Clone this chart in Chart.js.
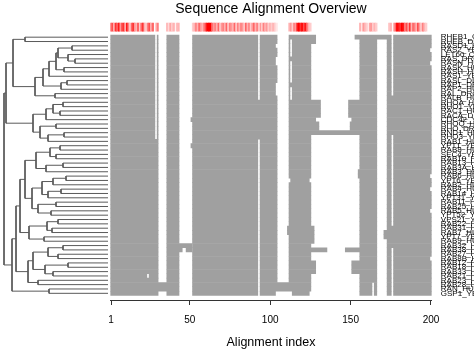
<!DOCTYPE html>
<html><head><meta charset="utf-8">
<script src="https://cdn.jsdelivr.net/npm/chart.js@4.4.1/dist/chart.umd.min.js"></script>
<style>html,body{margin:0;padding:0;background:#fff}#wrap{width:474px;height:351px;position:relative}</style>
</head><body><div id="wrap"><canvas id="c" width="474" height="351"></canvas></div>
<script>
// ---------- data ----------
const sequenceNames = [
 "RHEB1_CAEEL","RHEB_DROME","RASD1_HUMAN","RAS2_YEAST","LET60_CAEEL","RAS_DROME","RASN_HUMAN","RASK_HUMAN",
 "RASH_HUMAN","RAS1_YEAST","RASL_DICDI","RAP1_DROME","RAP2_HUMAN","RAL_DROME","RALB_HUMAN","RHOA_HUMAN",
 "RHO1_YEAST","RAC1_HUMAN","RACA_DICDI","CDC42_YEAST","RHOQ_HUMAN","RHO_DROME","RND1_HUMAN","RHO3_YEAST",
 "RAB1_HUMAN","YPT1_YEAST","RAB8_HUMAN","SEC4_YEAST","RAB10_HUMA","RAB13_HUMA","RAB3A_HUMA","RAB3_DROME",
 "RAB6_HUMAN","YPT6_YEAST","RAB2_HUMAN","RAB4_HUMAN","RAB14_HUMA","YPT31_YEAS","RAB11_HUMA","RAB25_HUMA",
 "RAB5_HUMAN","YPT52_YEAS","VPS21_YEAS","RAB22_HUMA","RAB31_HUMA","RAB7_HUMAN","YPT7_YEAST","RAB9_HUMAN",
 "RAB32_HUMA","RAB38_HUMA","RAB27_HUMA","RAB8B_HUMA","RAB12_HUMA","RAB18_HUMA","RAB33_HUMA","RAB21_HUMA",
 "RAB23_HUMA","RAB28_HUMA","RAN_HUMAN","GSP1_YEAST"];

// gapped alignment per sequence: aligned residue ranges (alignment columns)
const rowBlocks = [
 "1-28,30,36-43,52-92,94-104,112-128,153-175,177-200",
 "1-28,30,36-43,52-92,94-104,112,114-128,156-166,173-175,177-200",
 "1-28,30,36-43,52-92,94-103,112,114-125,156-166,173-175,177-200",
 "1-28,30,36-43,52-92,94-104,112,114-125,156-166,173-175,177-199",
 "1-28,30,36-43,52-92,94-104,112,114-125,156-166,173-175,177-200",
 "1-28,30,36-43,52-92,94-103,112-125,156-166,173-175,177-200",
 "1-28,30,36-43,52-92,94-103,112,114-125,156-166,173-175,177-199",
 "1-28,30,36-43,52-92,94-104,112,114-125,156-166,173-175,177-200",
 "1-28,30,36-43,52-92,94-104,112,114-125,156-166,173-175,177-200",
 "1-28,30,36-43,52-92,94-104,112,114-125,156-166,173-175,177-200",
 "1-28,30,36-43,52-92,94-104,112,114-125,156-166,173-175,177-200",
 "1-28,30,36-43,52-92,94-103,112-125,156-166,173-175,177-200",
 "1-28,30,36-43,52-92,94-103,112,114-125,156-166,173-175,177-200",
 "1-28,30,36-43,52-92,94-103,112,114-125,156-166,173-175,177-200",
 "1-28,30,36-43,52-92,94-104,112,114-125,156-166,173-200",
 "1-28,30,36-43,52-104,112-131,149-166,173-200",
 "1-28,30,36-43,52-104,112-131,149-166,173-200",
 "1-28,30,36-43,52-104,112-131,149-166,173-200",
 "1-28,30,36-43,52-104,112-131,149-166,173-200",
 "1-28,30,36-43,51-104,112-128,151-166,173-200",
 "1-28,30,36-43,52-104,112-130,150-166,173-200",
 "1-28,30,36-43,52-104,112-130,150-166,173-200",
 "1-28,30,36-43,52-104,112-166,173-200",
 "1-28,30,36-43,52-104,112-125,156-166,173-175,177-200",
 "1-30,36-43,52-92,94-104,112-125,156-166,173-175,177-200",
 "1-30,36-43,51-92,94-104,112-125,156-166,173-175,177-200",
 "1-30,36-43,52-92,94-104,112-125,156-166,173-175,177-200",
 "1-30,36-43,52-92,94-104,112-125,156-166,173-175,177-200",
 "1-30,36-43,52-92,94-104,112-125,156-166,173-175,177-200",
 "1-30,36-43,52-92,94-104,112-125,156-166,173-175,177-200",
 "1-30,36-43,52-92,94-104,112-125,156-166,173-175,177-200",
 "1-30,36-43,52-92,94-104,112-125,155-166,173-175,177-200",
 "1-30,36-43,52-92,94-104,112-125,155-166,173-175,177-199",
 "1-30,36-43,52-92,94-104,113-124,156-166,173-175,177-200",
 "1-30,36-43,52-92,94-104,112-125,156-166,173-175,177-200",
 "1-30,36-43,52-92,94-104,112-125,156-166,173-175,177-199",
 "1-30,36-43,52-92,94-104,112-125,156-166,173-175,177-200",
 "1-30,36-43,52-92,94-104,112-125,156-166,173-175,177-200",
 "1-30,36-43,52-92,94-104,112-125,156-166,173-175,177-200",
 "1-30,36-43,52-92,94-104,112-125,156-166,173-175,177-200",
 "1-30,36-43,52-92,94-104,112-125,156-166,173-175,177-199",
 "1-30,36-43,52-92,94-104,112-125,156-166,173-175,177-200",
 "1-30,36-43,52-92,94-104,112-125,156-166,173-175,177-200",
 "1-30,36-43,52-92,94-104,112-125,156-166,173-175,177-200",
 "1-30,36-43,52-92,94-104,111-127,156-166,173-200",
 "1-30,36-43,52-92,94-104,111-127,156-166,171-200",
 "1-30,36-43,52-92,94-104,112-127,156-166,171-200",
 "1-30,36-43,52-92,94-104,112-127,156-166,173-200",
 "1-30,36-51,52-92,94-104,112-125,156-166,173-200",
 "1-30,36-45,48-51,52-92,94-104,112-135,147-166,173-175,177-200",
 "1-30,36-43,52-92,94-104,112-125,156-166,173-175,177-200",
 "1-30,36-43,52-92,94-104,112-125,156-166,173-175,177-199",
 "1-30,36-43,52-92,94-104,112-128,151-166,173-175,177-200",
 "1-30,36-43,52-92,94-104,112-128,151-166,173-175,177-200",
 "1-30,36-43,52-92,94-104,112-128,151-166,173-175,177-200",
 "1-23,25-30,36-43,52-92,94-104,112-125,156-166,173-175,177-200",
 "1-30,36-43,52-92,94-104,112-125,156-166,173-175,177-200",
 "1-43,52-92,94-125,156-163,165-166,173-175,177-200",
 "1-43,52-92,94-125,156-163,165-166,173-175,177-200",
 "1-30,36-43,52-92,94-103,114-124,156-163,165-166,173-175,177-200"];

// column conservation (0 = none, 1 = fully conserved), columns 1..200
const conservation = [
 0.5,0.7,0.3,0.8,0.6,0.9,0.4,0.7,0.8,0.3, 0.9,0.5,0.2,0.6,0.8,0.4,0.3,0.7,0.2,0.6,
 0.8,0.3,0.2,0.5,0.7,0.3,0.6,0,0.2,0.5,   0,0,0,0,0, 0.3,0.15,0.35,0.2,0.3,
 0,0.25,0.3,0,0,0,0,0,0,0,               0,0.2,0.3,0.5,0.3,0.6,0.4,0.3,0.5,0.7,
 1,1,1,0.6,0.4,0.5,0.3,0.6,0.2,0.4,       0.5,0.3,0.6,0.2,0.5,0.4,0.3,0.6,0.2,0.5,
 0.3,0.5,0.4,0.2,0.6,0.3,0.5,0.2,0.4,0.6, 0.3,0.5,0,0.4,0.2,0.5,0.3,0.4,0.2,0.3,
 0.2,0.3,0.2,0.1,0,0,0,0,0,0,             0,0.3,0.4,0.2,0.5,0.4,0.9,1,0.8,1,
 0.7,0.9,0.6,0.3,0.2,0,0,0,0,0,           0,0,0,0,0,0,0,0,0,0,
 0,0,0,0,0,0,0,0,0,0,                     0,0,0,0,0,0.3,0,0.4,0.3,0.2,
 0,0.35,0.4,0.2,0.3,0.2,0,0,0,0,          0,0,0,0.2,0.3,0,0.3,0.6,1,0.9,
 0.8,1,0.9,0.5,0.7,0.4,0.8,0.3,0.6,0.5,   0.3,0.7,0.4,0.2,0.5,0.3,0.2,0,0,0];

// dendrogram: [height, left, right]; leaves are row numbers
const treeUpper =
 [102,
   [95, [83,0,1],
        [73, [65, [59, [52, [50,[36,2,3],[40,4,[33,5,6]]], [44,7,8]], 9], [47,[41,10,11],12]],
             [53,13,14]]],
   [75, [62, [55,[45,15,16],[48,17,18]], 19],
        [68, [52,20,21], [60,[44,22,23],24]]]];
const treeLower =
 [96,
   [92,
     [88,
       [83, [72, [58,[48,25,26],[52,27,28]], [62,[45,29,30],31]],
            [76, [66, [55,[42,32,33],34], [60,[47,35,36],37]], [70,[52,38,39],[57,40,41]]]],
       [79, [61,[50,42,43],[56,44,45]], [64,46,47]]],
     [80, [75, [60,[45,48,49],[50,50,51]], [63,[40,52,53],[55,54,55]]], [70,56,57]]],
   [59,58,59]];
const tree = [104, treeUpper, treeLower];

const xTicks = [1, 50, 100, 150, 200];

// ---------- build datasets ----------
const segments = [];
rowBlocks.forEach((s, row) => {
  s.split(',').forEach(p => {
    const [a, b] = p.split('-').map(Number);
    segments.push({ y: row, x: [a - 0.5, (isNaN(b) ? a : b) + 0.5] });
  });
});

const STRIP_Y = -2.33;
const consData = [], consColors = [];
conservation.forEach((v, i) => {
  if (v > 0) {
    consData.push({ y: STRIP_Y, x: [i + 0.5, i + 1.5] });
    const g = Math.round(255 * (1 - v));
    consColors.push(`rgb(255,${g},${g})`);
  }
});

const treeLines = [];
function layoutNode(node) {
  if (typeof node === 'number') return { y: node, h: 0 };
  const [h, a, b] = node;
  const L = layoutNode(a), R = layoutNode(b);
  treeLines.push({ x: L.h, y: L.y }, { x: h, y: L.y }, { x: h, y: R.y }, { x: R.h, y: R.y }, { x: null, y: null });
  return { y: (L.y + R.y) / 2, h };
}
layoutNode(tree);

const FONT = "'Liberation Sans', Arial, Helvetica, sans-serif";

new Chart(document.getElementById('c'), {
  data: {
    datasets: [
      { type: 'bar', data: segments, backgroundColor: '#a0a0a0', borderWidth: 0,
        grouped: false, categoryPercentage: 1, barPercentage: 1.12, xAxisID: 'x', yAxisID: 'y' },
      { type: 'bar', data: consData, backgroundColor: consColors, borderWidth: 0,
        grouped: false, barThickness: 8, xAxisID: 'x', yAxisID: 'y' },
      { type: 'scatter', data: treeLines, showLine: true, spanGaps: false, pointRadius: 0,
        borderColor: '#5a5a5a', borderWidth: 1, clip: false, xAxisID: 'xd', yAxisID: 'y' }
    ]
  },
  options: {
    indexAxis: 'y',
    responsive: false, animation: false, devicePixelRatio: 1,
    layout: { padding: { left: 110.2, right: 0, top: 0, bottom: 1.0 } },
    plugins: {
      legend: { display: false }, tooltip: { enabled: false },
      title: { display: true, text: 'Sequence Alignment Overview', fullSize: false,
        color: '#000', font: { family: FONT, size: 14, weight: 'normal' }, padding: { top: 0.6, bottom: 2.25 } }
    },
    scales: {
      x: { type: 'linear', position: 'bottom', min: 0.5, max: 200.5,
        afterBuildTicks: s => { s.ticks = xTicks.map(v => ({ value: v })); },
        ticks: { color: '#000', font: { family: FONT, size: 10 }, padding: 9, maxRotation: 0, autoSkip: false },
        grid: { display: true, drawOnChartArea: false, drawTicks: true, tickLength: 5, tickColor: '#333', lineWidth: 1 },
        border: { display: true, color: '#333', width: 1 },
        title: { display: true, text: 'Alignment index', color: '#000', font: { family: FONT, size: 12.5 }, padding: { top: 0, bottom: 0 } }
      },
      xd: { type: 'linear', display: false, reverse: true, min: -323.8, max: -2.2 },
      y: { type: 'linear', position: 'right', reverse: true, min: -3.5, max: 60,
        afterBuildTicks: s => { s.ticks = sequenceNames.map((_, i) => ({ value: i })); },
        afterFit: s => { s.width = 42.2; },
        ticks: { color: '#000', font: { family: FONT, size: 8 }, padding: 9, autoSkip: false,
          callback: v => sequenceNames[v] },
        grid: { display: false, drawTicks: false },
        border: { display: false }
      }
    }
  }
});
</script></body></html>
